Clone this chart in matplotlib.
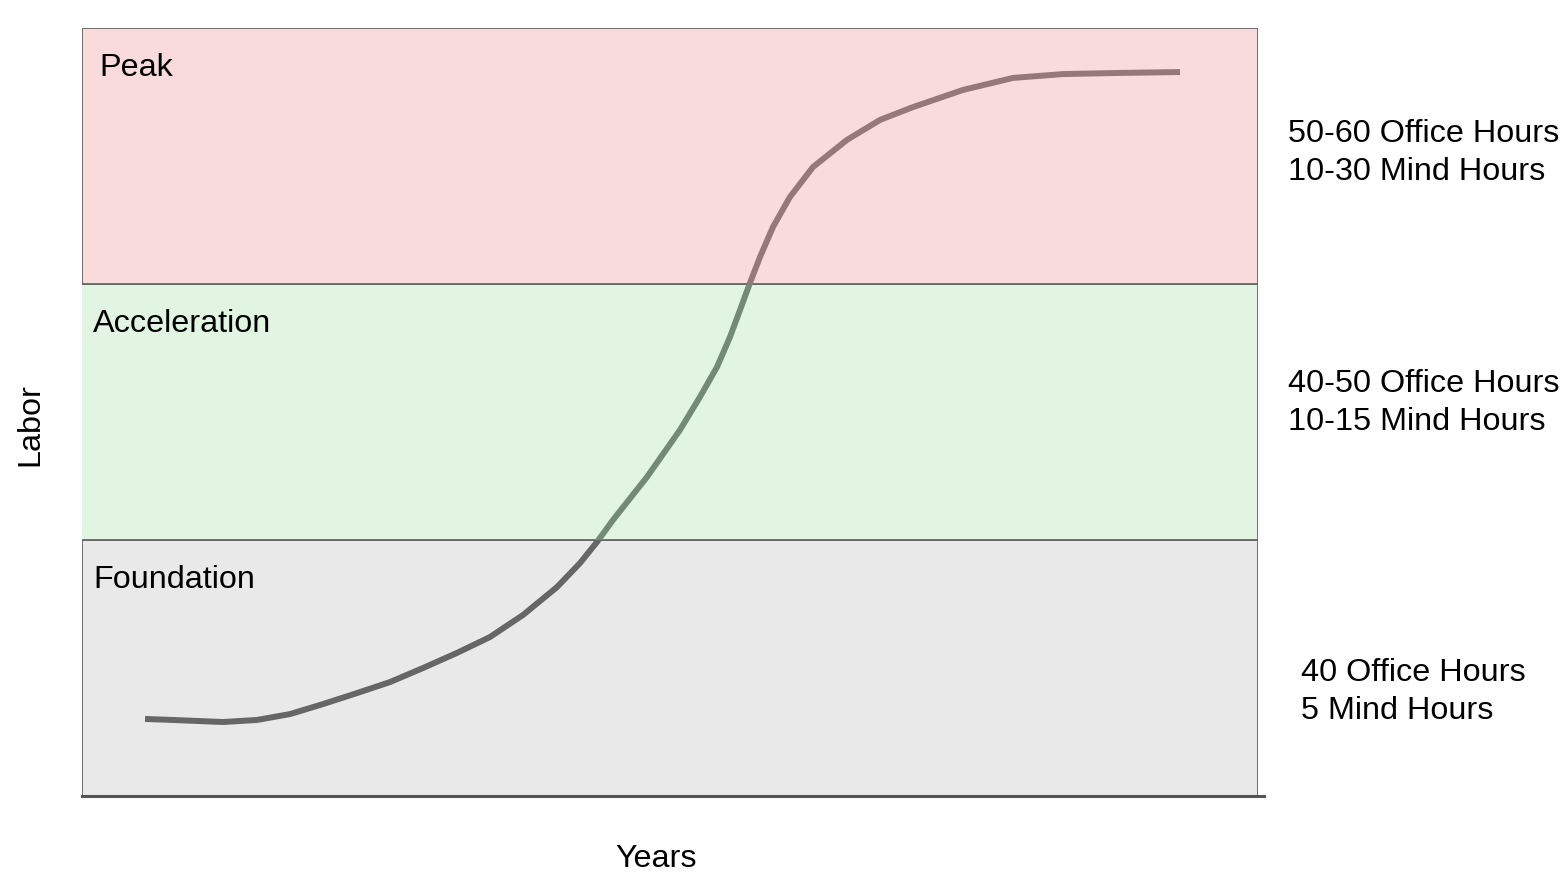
import matplotlib
matplotlib.use("Agg")
import matplotlib.pyplot as plt
from matplotlib.patches import Rectangle

plt.rcParams["font.family"] = ["Liberation Sans", "DejaVu Sans"]

# curve (x: 0-100 years, y: 0-3 labor, one unit per band)
years = [5.36, 7.74, 11.99, 14.88, 17.69, 20.49, 23.38, 26.19, 29.00, 31.89,
         34.69, 37.50, 40.39, 42.35, 43.79, 45.15, 48.04, 50.85, 52.55, 54.00,
         55.10, 55.95, 56.80, 57.65, 58.76, 60.20, 62.16, 65.05, 67.86, 70.66,
         74.91, 79.17, 83.42, 87.67, 93.37]
labor = [0.301, 0.297, 0.289, 0.297, 0.320, 0.359, 0.402, 0.445, 0.500, 0.559,
         0.621, 0.707, 0.816, 0.910, 0.992, 1.078, 1.246, 1.430, 1.559, 1.676,
         1.793, 1.898, 2.004, 2.105, 2.223, 2.340, 2.457, 2.563, 2.641, 2.691,
         2.758, 2.805, 2.820, 2.824, 2.828]

bands = ["Foundation", "Acceleration", "Peak"]
band_colors = ["#e9e9e9", "#e2f5e2", "#f8dbda"]
line_colors = ["#666666", "#738a74", "#977878"]
band_left = [0.0, -0.2, 0.0]
label_x = [0.94, 0.94, 1.45]

hours_office = ["40 Office Hours", "40-50 Office Hours", "50-60 Office Hours"]
hours_mind = ["5 Mind Hours", "10-15 Mind Hours", "10-30 Mind Hours"]
hours_x = [103.66, 102.55, 102.55]
hours_y = [(0.449, 0.301), (0.578, 0.430), (0.555, 0.406)]

FS = 23.3

fig = plt.figure(figsize=(15.68, 8.88), dpi=100)
ax = fig.add_axes([82 / 1568, 92 / 888, 1176 / 1568, 768 / 888])
ax.set_xlim(0, 100)
ax.set_ylim(0, 3)
ax.axis("off")

for i, name in enumerate(bands):
    rect = Rectangle((band_left[i], i), 100 - band_left[i], 1,
                     facecolor=band_colors[i], edgecolor="#666666",
                     linewidth=1.3, zorder=1)
    ax.add_patch(rect)
    # same curve, clipped to each band so it takes that band's tint
    clip = Rectangle((band_left[i], i), 100 - band_left[i], 1,
                     transform=ax.transData)
    ln, = ax.plot(years, labor, color=line_colors[i], linewidth=4.3,
                  solid_capstyle="butt", solid_joinstyle="round", zorder=3)
    ln.set_clip_path(clip)

    ax.text(label_x[i], i + 0.8125, name, fontsize=FS, va="baseline",
            ha="left", zorder=4)

    ax.text(hours_x[i], i + hours_y[i][0], hours_office[i], fontsize=FS,
            va="baseline", ha="left", clip_on=False)
    ax.text(hours_x[i], i + hours_y[i][1], hours_mind[i], fontsize=FS,
            va="baseline", ha="left", clip_on=False)

# bottom axis line
ax.plot([0, 100.5], [0, 0], color="#555555", linewidth=2.2, clip_on=False, zorder=5)

ax.text(48.8, -0.277, "Years", fontsize=FS, ha="center", va="baseline")
ax.text(-4.42, 1.449, "Labor", fontsize=FS, ha="center", va="center",
        rotation=90)

fig.savefig("out.png", dpi=100)
